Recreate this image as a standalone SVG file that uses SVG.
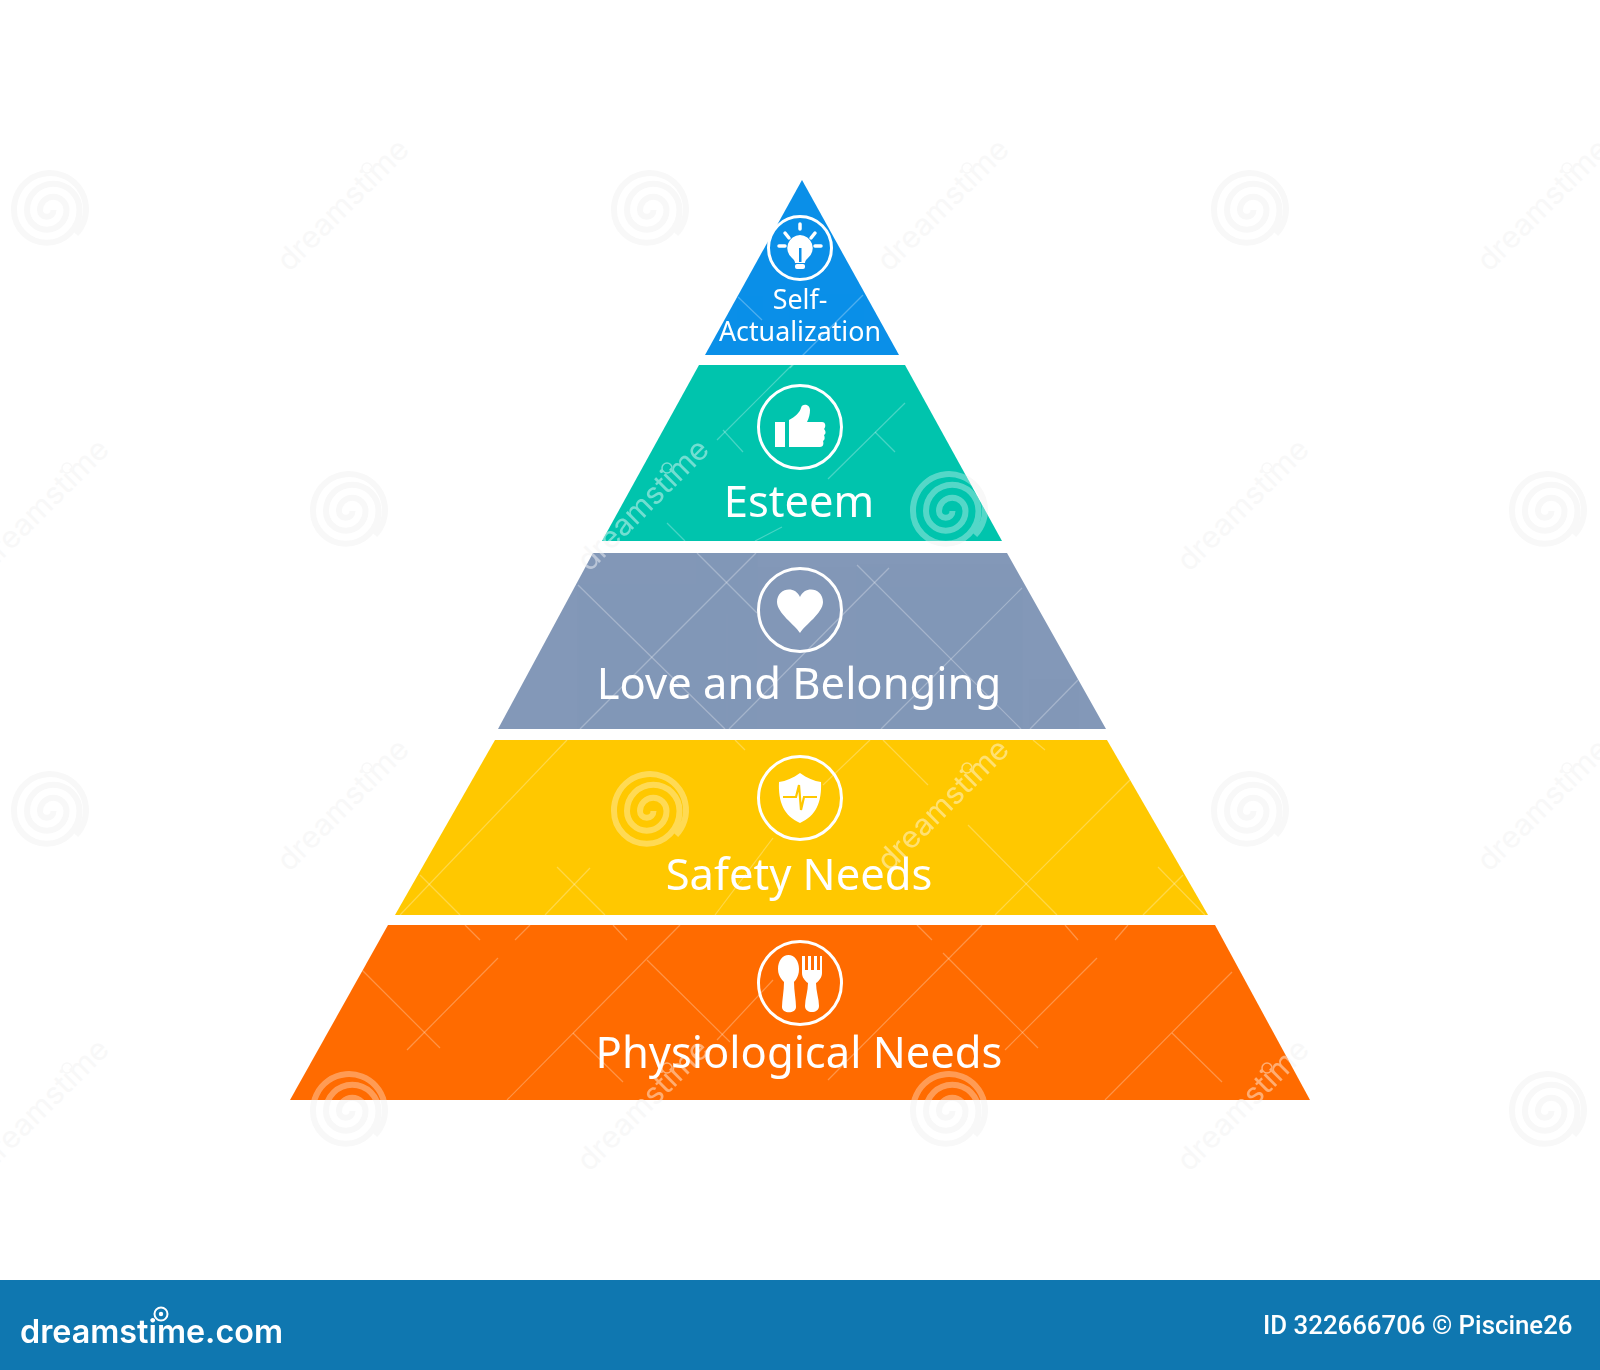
<svg xmlns="http://www.w3.org/2000/svg" width="1600" height="1370" viewBox="0 0 1600 1370">
<style>
.l{font-family:"Noto Sans","Open Sans",sans-serif;fill:#fff;text-anchor:middle;font-size:43.500px}
.s{font-size:26.800px}
.ring{fill:none;stroke:#fff;stroke-width:3}
.ic{fill:#fff}
.sp{fill:none;stroke-width:6}
.wt{font-family:Inter,"Noto Sans",sans-serif;font-size:30px;text-anchor:middle}
.lines line{stroke:#fff;stroke-width:1.200;opacity:.28}
</style>
<defs>
<path id="spiral" class="sp" stroke="currentColor" d="M26 24A36 36 0 1 0-36 0A32.750 32.750 0 0 0 29.500 0A26.250 26.250 0 0 0-23 0A19.750 19.750 0 0 0 16.500 0A13.250 13.250 0 0 0-10 0A6.750 6.750 0 0 0 3.500 0"/>
<g id="mark">
<text class="wt" stroke="none" fill="currentColor" transform="rotate(-45)" textLength="172" lengthAdjust="spacingAndGlyphs">dreamstime</text>
<circle cx="17" cy="-44" r="5" fill="none" stroke="currentColor" stroke-width="1.500"/>
</g>
<clipPath id="tiers">
<polygon points="802,180 899,355 705,355"/><polygon points="699,365 905,365 1002,541 602,541"/><polygon points="593,553 1007,553 1106,729 498,729"/><polygon points="495,740 1107,740 1208,915 395,915"/><polygon points="388,925 1215,925 1310,1100 290,1100"/>
</clipPath>
</defs>
<rect width="1600" height="1370" fill="#fff"/>
<g id="watermark-under" style="color:#f8f8f8">
<use href="#spiral" x="50" y="210"/><use href="#spiral" x="650" y="210"/><use href="#spiral" x="1250" y="210"/>
<use href="#spiral" x="349" y="511"/><use href="#spiral" x="949" y="511"/><use href="#spiral" x="1548" y="511"/>
<use href="#spiral" x="50" y="811"/><use href="#spiral" x="650" y="811"/><use href="#spiral" x="1250" y="811"/>
<use href="#spiral" x="349" y="1111"/><use href="#spiral" x="949" y="1111"/><use href="#spiral" x="1548" y="1111"/>
<use href="#mark" x="350" y="212"/><use href="#mark" x="950" y="212"/><use href="#mark" x="1550" y="212"/>
<use href="#mark" x="50" y="512"/><use href="#mark" x="650" y="512"/><use href="#mark" x="1250" y="512"/>
<use href="#mark" x="350" y="812"/><use href="#mark" x="950" y="812"/><use href="#mark" x="1550" y="812"/>
<use href="#mark" x="50" y="1112"/><use href="#mark" x="650" y="1112"/><use href="#mark" x="1250" y="1112"/>
</g>
<g id="pyramid-tiers">
<polygon id="tier-self" points="802,180 899,355 705,355" fill="#0a8fe8"/>
<polygon id="tier-esteem" points="699,365 905,365 1002,541 602,541" fill="#00c4ad"/>
<polygon id="tier-love" points="593,553 1007,553 1106,729 498,729" fill="#8398b8"/>
<polygon id="tier-safety" points="495,740 1107,740 1208,915 395,915" fill="#ffc800"/>
<polygon id="tier-phys" points="388,925 1215,925 1310,1100 290,1100" fill="#ff6b00"/>
</g>
<g id="watermark-over" clip-path="url(#tiers)">
<g class="lines">
<line x1="738" y1="297" x2="762" y2="320"/><line x1="863" y1="295" x2="790" y2="368"/>
<line x1="717" y1="440" x2="792" y2="365"/><line x1="723" y1="430" x2="743" y2="452"/><line x1="828" y1="479" x2="905" y2="403"/><line x1="875" y1="432" x2="895" y2="452"/><line x1="667" y1="523" x2="685" y2="541"/><line x1="755" y1="541" x2="782" y2="527"/>
<line x1="578" y1="585" x2="725" y2="729"/><line x1="580" y1="729" x2="756" y2="553"/><line x1="697" y1="553" x2="757" y2="613"/><line x1="729" y1="729" x2="889" y2="568"/><line x1="857" y1="565" x2="1021" y2="729"/><line x1="881" y1="729" x2="1022" y2="588"/><line x1="1030" y1="729" x2="1078" y2="680"/>
<line x1="420" y1="875" x2="460" y2="915"/><line x1="400" y1="915" x2="567" y2="740"/><line x1="557" y1="867" x2="605" y2="915"/><line x1="590" y1="868" x2="545" y2="915"/><line x1="735" y1="740" x2="745" y2="750"/><line x1="715" y1="915" x2="773" y2="838"/><line x1="883" y1="740" x2="928" y2="785"/><line x1="823" y1="785" x2="870" y2="740"/><line x1="968" y1="825" x2="1057" y2="915"/><line x1="995" y1="915" x2="1130" y2="780"/><line x1="1158" y1="867" x2="1205" y2="915"/><line x1="1143" y1="915" x2="1183" y2="875"/><line x1="1033" y1="740" x2="1045" y2="750"/>
<line x1="362" y1="970" x2="440" y2="1048"/><line x1="407" y1="1050" x2="498" y2="958"/><line x1="465" y1="925" x2="480" y2="940"/><line x1="515" y1="940" x2="530" y2="925"/><line x1="613" y1="925" x2="627" y2="940"/><line x1="507" y1="1100" x2="680" y2="925"/><line x1="573" y1="1033" x2="623" y2="1082"/><line x1="647" y1="960" x2="730" y2="1042"/><line x1="717" y1="1040" x2="773" y2="980"/>
<line x1="828" y1="1080" x2="982" y2="925"/><line x1="917" y1="925" x2="932" y2="940"/><line x1="943" y1="953" x2="1038" y2="1048"/><line x1="1005" y1="1050" x2="1097" y2="958"/><line x1="1065" y1="925" x2="1078" y2="940"/><line x1="1115" y1="940" x2="1128" y2="925"/><line x1="1105" y1="1100" x2="1232" y2="972"/><line x1="1172" y1="1033" x2="1222" y2="1082"/>
</g>
<g style="color:#fff" opacity=".33">
<use href="#spiral" x="949" y="511"/><use href="#spiral" x="650" y="811"/><use href="#spiral" x="349" y="1111"/><use href="#spiral" x="949" y="1111"/>
</g>
<g style="color:#fff" opacity=".45">
<use href="#mark" x="650" y="512"/><use href="#mark" x="950" y="812"/><use href="#mark" x="650" y="1112"/><use href="#mark" x="1250" y="1112"/>
</g>
</g>
<g id="self-actualization">
<circle class="ring" cx="800" cy="248" r="31.500" stroke-width="2.500"/>
<path class="ic" d="M800 235a13 13 0 0 1 8 23c-2 2-3 3-3 5h-10c0-2-1-3-3-5a13 13 0 0 1 8-23z"/>
<rect class="ic" x="795" y="264" width="10" height="5" rx="2"/>
<path d="M800 229v-5M785 233l4 5M815 233l-4 5M779 246h6M821 246h-6" stroke="#fff" stroke-width="3.500" stroke-linecap="round"/>
<rect x="799" y="248" width="2.500" height="14" fill="#0a8fe8"/>
<text class="l s" x="800" y="309">Self-</text>
<text class="l s" x="800" y="341">Actualization</text>
</g>
<g id="esteem">
<circle class="ring" cx="800" cy="427" r="41.500"/>
<path class="ic" d="M775 422h10v25h-10zM789 447v-27c6-3 11-8 12-12 1-5 9-4 9 2 0 4-1 8-3 12h15c4 0 4 5 2 7 2 2 2 5 0 6 1 2 1 5-1 6 1 3 0 6-3 6z"/>
<text class="l" x="799" y="517">Esteem</text>
</g>
<g id="love">
<circle class="ring" cx="800" cy="610" r="41.500"/>
<path class="ic" d="M800 633c-5-8-23-20-23-31 0-14 18-17 23-5 5-12 23-9 23 5 0 11-18 23-23 31z"/>
<text class="l" x="799" y="699">Love and Belonging</text>
</g>
<g id="safety">
<circle class="ring" cx="800" cy="798" r="41.500"/>
<path class="ic" d="M800 773c7 5 14 8 21 9 1 20-5 34-21 41-16-7-22-21-21-41 7-1 14-4 21-9z"/>
<path d="M783 797h13l3-12 2 25 3-13h13" fill="none" stroke="#ffc800" stroke-width="2.200"/>
<text class="l" x="799" y="890">Safety Needs</text>
</g>
<g id="physiological">
<circle class="ring" cx="800" cy="983" r="41.500"/>
<path class="ic" d="M788.500 955c6 0 10.500 6 10.500 14 0 7-3 11-5 13 0 9 2 18 2 25 0 7-14 7-14 0 0-7 2-16 2-25-2-2-6-6-6-13 0-8 4.500-14 10.500-14z"/>
<path class="ic" d="M802 956h3v14h3v-14h3v14h3v-14h3v14h3v-14h2v17c0 5-4 9-6 10 0 8 3 16 3 23 0 8-14 8-14 0 0-7 3-15 3-23-2-1-6-5-6-10z"/>
<text class="l" x="799" y="1068">Physiological Needs</text>
</g>
<g id="footer">
<rect x="0" y="1280" width="1600" height="90" fill="#0f77b0"/>
<text x="20" y="1343" font-family="Inter,'Liberation Sans',sans-serif" font-size="32" font-weight="600" fill="#fff" textLength="263" lengthAdjust="spacingAndGlyphs">dreamstime.com</text>
<circle cx="161" cy="1314" r="6.500" fill="none" stroke="#fff" stroke-width="2"/><circle cx="161" cy="1314" r="2.200" fill="#fff"/>
<text x="1263" y="1334" font-family="Roboto,'Liberation Sans',sans-serif" font-size="25.800" font-weight="500" fill="#fff">ID 322666706 © Piscine26</text>
</g>
</svg>
